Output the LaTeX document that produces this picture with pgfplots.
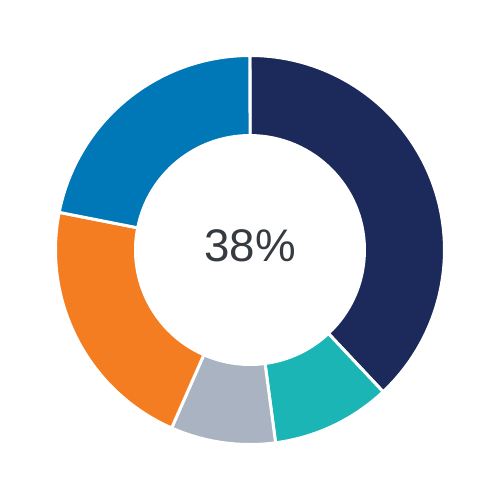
\documentclass[border=0pt]{standalone}
\usepackage{pgfplots}
\usepackage{pgfplotstable}
\pgfplotsset{compat=1.18}
\usepackage{fontspec}
\setmainfont{Liberation Sans}

\definecolor{cNavy}{HTML}{1B2A5A}
\definecolor{cTeal}{HTML}{1BB5B5}
\definecolor{cGray}{HTML}{A9B3C1}
\definecolor{cOrange}{HTML}{F37D20}
\definecolor{cBlue}{HTML}{0077B6}
\definecolor{cText}{HTML}{363B42}

% shares in percent, clockwise from the top
\pgfplotstableread{
share color
38.0 cNavy
9.9 cTeal
8.7 cGray
21.5 cOrange
21.9 cBlue
}\shares

\begin{document}
\begin{tikzpicture}
\begin{axis}[x=0.02cm, y=0.02cm,
    xmin=-250, xmax=250, ymin=-250, ymax=250,
    hide axis, clip=false]
  \path (-250,-250) rectangle (250,250);
  \pgfplotsextra{
    \pgfplotstablegetrowsof{\shares}
    \pgfmathtruncatemacro\last{\pgfplotsretval-1}
    \gdef\cum{0}
    \foreach \i in {0,...,\last}{
      \pgfplotstablegetelem{\i}{share}\of\shares \let\segval\pgfplotsretval
      \pgfplotstablegetelem{\i}{color}\of\shares \let\segcol\pgfplotsretval
      \pgfmathsetmacro\aa{90-3.6*\cum}
      \pgfmathsetmacro\ab{90-3.6*(\cum+\segval)}
      \path[fill=\segcol, draw=white, line width=1.7pt]
        ({194.5*cos(\aa)},{194.5*sin(\aa)})
        arc[start angle=\aa, end angle=\ab, radius=3.89cm]
        -- ({114.5*cos(\ab)},{114.5*sin(\ab)})
        arc[start angle=\ab, end angle=\aa, radius=2.29cm]
        -- cycle;
      \pgfmathsetmacro\nxt{\cum+\segval}
      \xdef\cum{\nxt}
    }
  }
  \node[text=cText, font=\fontsize{26}{26}\selectfont] at (0,4) {38\%};
\end{axis}
\end{tikzpicture}
\end{document}
